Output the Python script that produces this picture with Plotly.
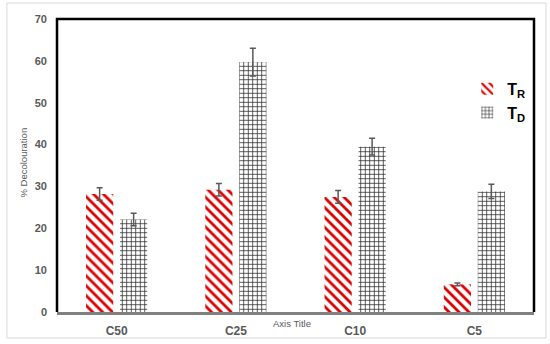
import plotly.graph_objects as go

categories = ["C50", "C25", "C10", "C5"]
tr_values = [28.2, 29.2, 27.5, 6.6]
tr_errors = [1.5, 1.5, 1.5, 0.3]
td_values = [22.1, 59.7, 39.5, 28.8]
td_errors = [1.5, 3.3, 2.0, 1.7]
y_ticks = [0, 10, 20, 30, 40, 50, 60, 70]

FONT = "Liberation Sans, Arial, sans-serif"
GRAY = "#595959"

fig = go.Figure()
fig.add_trace(go.Bar(
    x=categories, y=tr_values, name="<b>T<sub>R</sub></b>",
    marker=dict(color="white", line=dict(width=0),
                pattern=dict(shape="\\", fgcolor="#dd0000", bgcolor="white", fgopacity=1,
                             size=7, solidity=0.4, fillmode="overlay")),
    error_y=dict(type="data", array=tr_errors, color="#595959", thickness=1.5, width=3),
))
fig.add_trace(go.Bar(
    x=categories, y=td_values, name="<b>T<sub>D</sub></b>",
    marker=dict(color="white", line=dict(width=0),
                pattern=dict(shape="+", fgcolor="#222222", bgcolor="white", fgopacity=1,
                             size=4.5, solidity=0.3, fillmode="overlay")),
    error_y=dict(type="data", array=td_errors, color="#595959", thickness=1.5, width=3),
))

fig.update_layout(
    width=550, height=344,
    margin=dict(l=57, r=16, t=19, b=32, autoexpand=False),
    paper_bgcolor="white", plot_bgcolor="white",
    barmode="group", bargap=0.43, bargroupgap=0.2,
    font=dict(family=FONT, color=GRAY),
    showlegend=True,
    legend=dict(x=0.86, y=0.82, xanchor="left", yanchor="top",
                bgcolor="rgba(0,0,0,0)", font=dict(size=16, color="black"),
                tracegroupgap=0),
    xaxis=dict(showline=True, linecolor="#808080", linewidth=3, automargin=False,
               tickfont=dict(size=12, color=GRAY, family=FONT, weight="bold"), ticks="",
               ticklabelstandoff=6, showgrid=False, zeroline=False),
    yaxis=dict(range=[0, 70], tickvals=y_ticks, showgrid=False, zeroline=False,
               automargin=False,
               tickfont=dict(size=11, color=GRAY, family=FONT, weight="bold"), ticks="",
               ticklabelstandoff=9, showline=False),
    shapes=[
        dict(type="path", xref="paper", yref="paper",
             path="M 0,0 L 0,1 L 1,1 L 1,0", line=dict(color="black", width=2.5)),
        dict(type="rect", xref="paper", yref="paper",
             x0=-0.105, x1=1.025, y0=-0.0887, y1=1.0546,
             line=dict(color="#d9d9d9", width=1)),
    ],
    annotations=[
        dict(text="% Decolouration", xref="paper", yref="paper", x=-0.085, y=0.51,
             textangle=-90, showarrow=False, font=dict(size=9.5, color=GRAY)),
        dict(text="Axis Title", xref="paper", yref="paper", x=0.493, y=-0.065,
             showarrow=False, font=dict(size=9.5, color=GRAY)),
    ],
)

fig.write_html("out.html", config={"displayModeBar": False},
               post_script="document.body.style.margin='0';document.body.style.overflow='hidden';")
